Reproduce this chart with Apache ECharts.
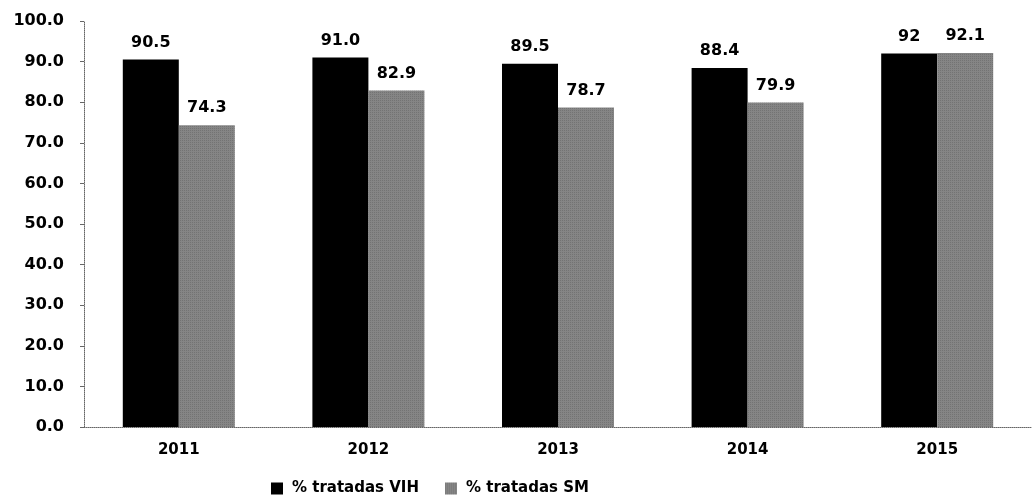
<!DOCTYPE html>
<html><head><meta charset="utf-8">
<script src="https://cdn.jsdelivr.net/npm/echarts@6/dist/echarts.min.js"></script>
<style>html,body{margin:0;padding:0;background:#fff}#c{width:1032px;height:499px}</style>
</head><body><div id="c"></div>
<script>
var categories = ['2011','2012','2013','2014','2015'];
var vih = [90.5, 91.0, 89.5, 88.4, 92];
var sm = [74.3, 82.9, 78.7, 79.9, 92.1];
var vihText = ['90.5','91.0','89.5','88.4','92'];
var smText = ['74.3','82.9','78.7','79.9','92.1'];

var chart = echarts.init(document.getElementById('c'));
var font = 'DejaVu Sans';
chart.setOption({
  animation: false,
  backgroundColor: '#fff',
  grid: {left: 84, right: 0, top: 21, bottom: 72, containLabel: false},
  legend: {
    bottom: -2, left: 266, itemWidth: 12, itemHeight: 12, itemGap: 26,
    icon: 'rect',
    textStyle: {fontFamily: font, fontWeight: 'bold', fontSize: 15, color: '#000', padding: [0, 0, 0, 4]},
    data: ['% tratadas VIH', '% tratadas SM']
  },
  xAxis: {
    type: 'category', data: categories,
    axisLine: {lineStyle: {color: '#666', type: 'dotted'}},
    axisTick: {show: false},
    axisLabel: {fontFamily: font, fontWeight: 'bold', fontSize: 15, color: '#000', margin: 16}
  },
  yAxis: {
    type: 'value', min: 0, max: 100, interval: 10,
    axisLine: {show: true, lineStyle: {color: '#666', type: 'dotted'}},
    axisTick: {show: true, length: 4, lineStyle: {color: '#666'}},
    splitLine: {show: false},
    axisLabel: {fontFamily: font, fontWeight: 'bold', fontSize: 16, color: '#000', margin: 20,
      formatter: function(v){ return v.toFixed(1); }}
  },
  series: [
    {name: '% tratadas VIH', type: 'bar', data: vih, barWidth: 56, barGap: '0%',
      itemStyle: {color: '#000'},
      label: {show: true, position: 'top', distance: 9, fontFamily: font, fontWeight: 'bold', fontSize: 16, color: '#000',
        formatter: function(p){ return vihText[p.dataIndex]; }}},
    {name: '% tratadas SM', type: 'bar', data: sm, barWidth: 56,
      itemStyle: {color: '#858585', decal: {symbol: 'rect', symbolSize: 0.6, dashArrayX: [1,1], dashArrayY: [1,1], color: 'rgba(30,30,30,0.55)'}},
      label: {show: true, position: 'top', distance: 9, fontFamily: font, fontWeight: 'bold', fontSize: 16, color: '#000',
        formatter: function(p){ return smText[p.dataIndex]; }}}
  ]
});
</script></body></html>
